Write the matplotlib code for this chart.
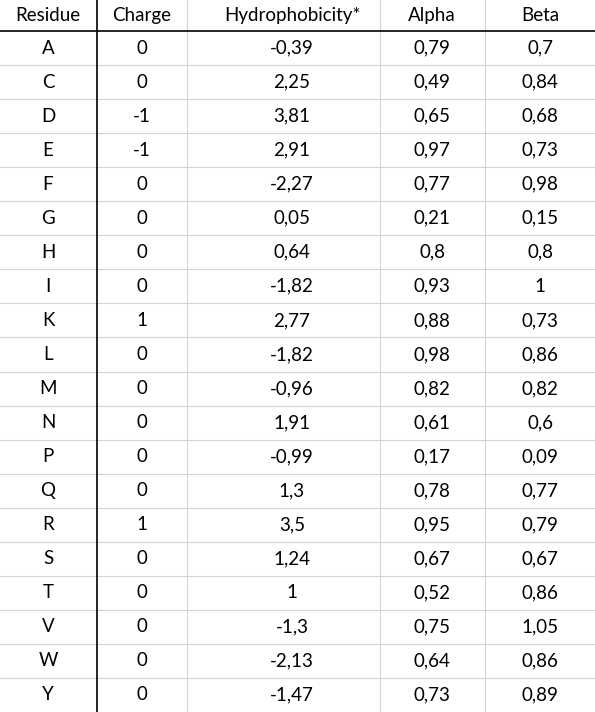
import matplotlib
matplotlib.use("Agg")
import matplotlib.pyplot as plt

headers = ["Residue", "Charge", "Hydrophobicity*", "Alpha", "Beta"]
residues = ["A","C","D","E","F","G","H","I","K","L","M","N","P","Q","R","S","T","V","W","Y"]
charge = ["0","0","-1","-1","0","0","0","0","1","0","0","0","0","0","1","0","0","0","0","0"]
hydro = ["-0,39","2,25","3,81","2,91","-2,27","0,05","0,64","-1,82","2,77","-1,82","-0,96","1,91","-0,99","1,3","3,5","1,24","1","-1,3","-2,13","-1,47"]
alpha = ["0,79","0,49","0,65","0,97","0,77","0,21","0,8","0,93","0,88","0,98","0,82","0,61","0,17","0,78","0,95","0,67","0,52","0,75","0,64","0,73"]
beta = ["0,7","0,84","0,68","0,73","0,98","0,15","0,8","1","0,73","0,86","0,82","0,6","0,09","0,77","0,79","0,67","0,86","1,05","0,86","0,89"]

W, H = 595, 712
fig = plt.figure(figsize=(W/100, H/100), dpi=100)
ax = fig.add_axes([0, 0, 1, 1])
ax.set_xlim(0, W); ax.set_ylim(H, 0); ax.axis("off")

font = dict(family=["Lato", "DejaVu Sans"], fontsize=13.5, color="black")
col_edges = [0, 97, 187, 380, 485, 595]
hdr_h = 31
row_h = (H - hdr_h) / len(residues)

for x in col_edges[2:-1]:
    ax.plot([x, x], [0, H], color="#d4d4d4", lw=0.8)
for i in range(1, len(residues)):
    y = hdr_h + i * row_h
    ax.plot([0, W], [y, y], color="#d4d4d4", lw=0.8)
ax.plot([97, 97], [0, H], color="black", lw=1.2)
ax.plot([0, W], [hdr_h, hdr_h], color="black", lw=1.2)

hdr_x = [48, 142, 292, 432, 540]
for x, t in zip(hdr_x, headers):
    ax.text(x, hdr_h/2, t, ha="center", va="center", **font)

for i in range(len(residues)):
    y = hdr_h + (i + 0.5) * row_h
    ax.text(48, y, residues[i], ha="center", va="center", **font)
    ax.text(142, y, charge[i], ha="center", va="center", **font)
    ax.text(292, y, hydro[i], ha="center", va="center", **font)
    ax.text(432, y, alpha[i], ha="center", va="center", **font)
    ax.text(540, y, beta[i], ha="center", va="center", **font)

fig.savefig("out.png", dpi=100)
